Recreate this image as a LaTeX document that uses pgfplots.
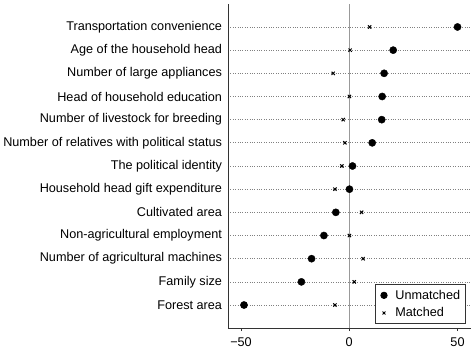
\documentclass[border=0pt]{standalone}
\usepackage{pgfplots}
\pgfplotsset{compat=1.18}
\usepackage{fontspec}
\setmainfont{Liberation Sans}
\begin{document}
\begin{tikzpicture}
\useasboundingbox (-228bp,-22.8bp) rectangle (246bp,328.2bp);
\begin{axis}[
  at={(0,0)}, anchor=south west,
  scale only axis,
  width=242.5bp, height=324.4bp,
  xmin=-56, xmax=56, ymin=0, ymax=14,
  axis lines=left,
  axis line style={-, black!80, line width=0.8bp},
  xtick={-50,0,50},
  xticklabels={−50,0,50},
  xtick align=outside,
  major tick length=3bp,
  tick style={black!80, line width=0.8bp},
  ytick={1,...,13},
  yticklabels={Forest area, Family size, Number of agricultural machines, Non-agricultural employment, Cultivated area, Household head gift expenditure, The political identity, Number of relatives with political status, Number of livestock for breeding, Head of household education, Number of large appliances, Age of the household head, Transportation convenience},
  ytick style={draw=none},
  ymajorgrids,
  grid style={dotted, black!50, line width=0.7bp},
  tick label style={font=\fontsize{12.7}{15}\selectfont},
  yticklabel style={xshift=-1bp},
  xticklabel style={yshift=-3bp},
  legend style={at={(0.9814,0.0123)}, anchor=south east, font=\fontsize{12.7}{15}\selectfont, draw=black!80, line width=0.8bp, inner xsep=3.5bp, inner ysep=3.5bp, row sep=3bp, cells={anchor=west}},
  legend cell align=left,
  clip=false,
]
\addplot[gray!80, line width=0.8bp, forget plot] coordinates {(0,0) (0,14)};
\addplot[only marks, mark=*, mark size=3.6bp, black,
  legend image code/.code={\path (0bp,0bp) (14bp,0bp); \draw[mark size=3.2bp] plot coordinates {(5bp,0bp)};}] coordinates {
(50.0,13) (20.3,12) (16.1,11) (15.2,10) (15.0,9) (10.6,8) (1.5,7) (0.1,6) (-6.2,5) (-11.7,4) (-17.4,3) (-22.1,2) (-48.6,1)};
\addlegendentry{Unmatched}
\addplot[only marks, mark=x, mark size=2.3bp, black, mark options={line width=1bp},
  legend image code/.code={\path (0bp,0bp) (14bp,0bp); \draw[mark size=2bp] plot coordinates {(5bp,0bp)};}] coordinates {
(9.4,13) (0.4,12) (-7.4,11) (0.1,10) (-2.8,9) (-2.0,8) (-3.4,7) (-6.6,6) (5.7,5) (0.1,4) (6.4,3) (2.3,2) (-6.6,1)};
\addlegendentry{Matched}
\end{axis}
\end{tikzpicture}
\end{document}
